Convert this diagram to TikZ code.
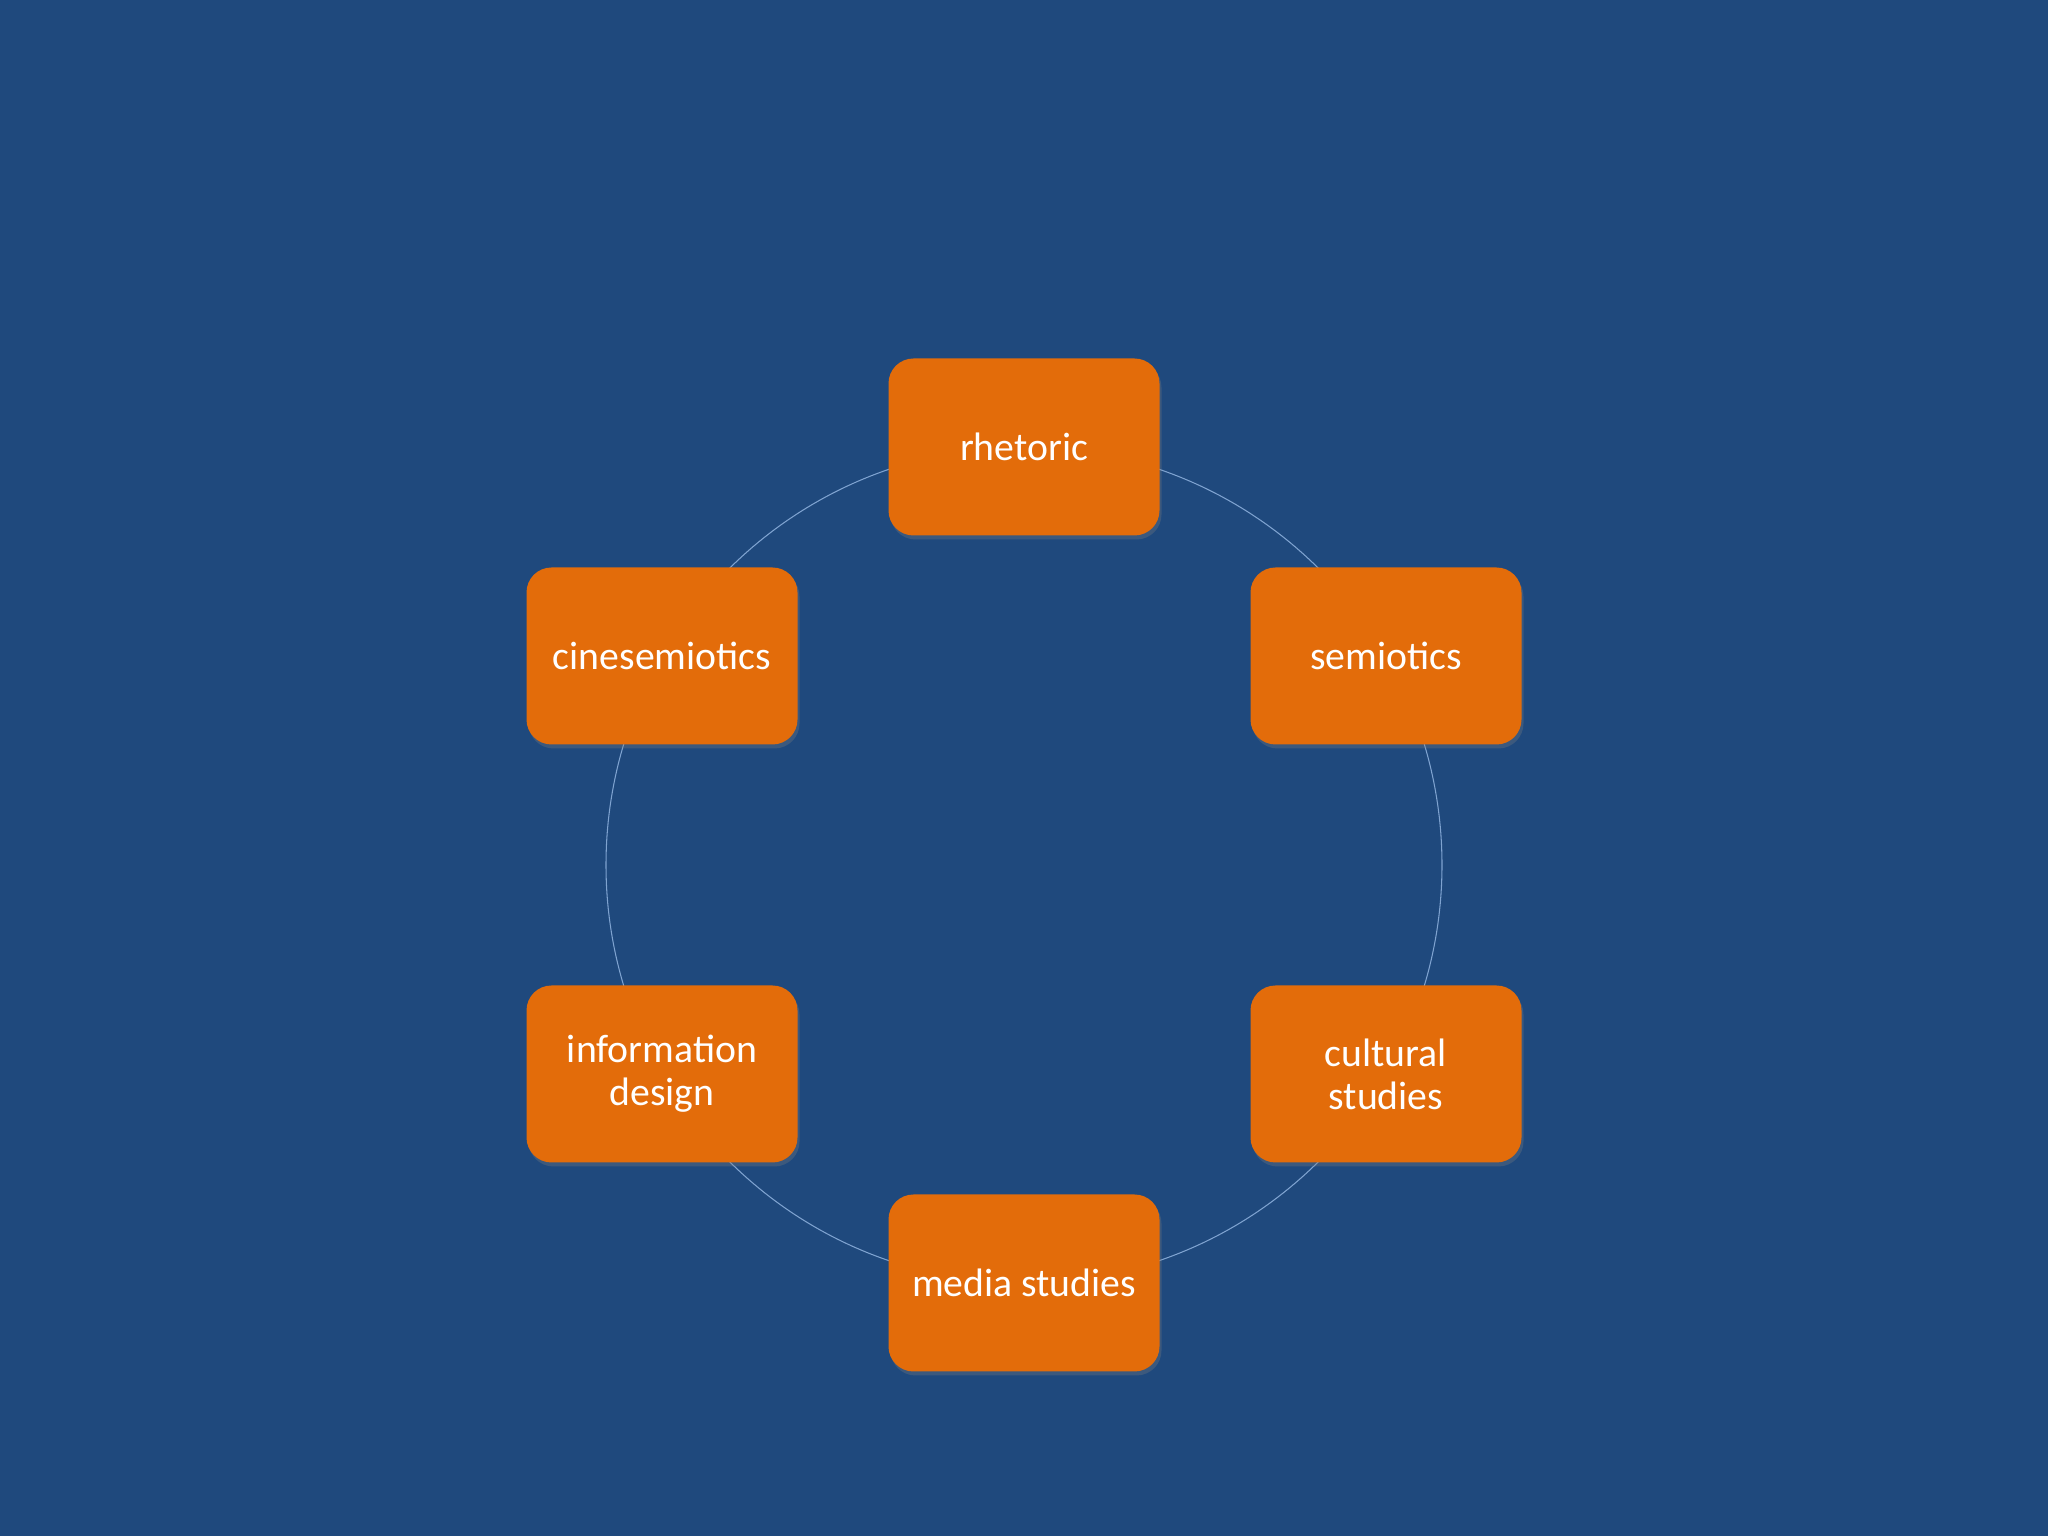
\documentclass[tikz,border=0pt]{standalone}
\usepackage{fontspec}
\setmainfont{Carlito}
\usetikzlibrary{shadows,calc}
\definecolor{bgblue}{HTML}{1F497D}
\definecolor{boxorange}{HTML}{E36C0A}
\definecolor{ringblue}{HTML}{7FA3D0}
\begin{document}
\begin{tikzpicture}[font=\fontsize{11.3}{12.2}\selectfont, line join=round, line cap=round]
			\tikzset{field/.style={draw=none, fill=boxorange, rounded corners=0.25cm, minimum width=2.71cm, minimum height=1.77cm, align=center, text=white, drop shadow={opacity=0.3, shadow xshift=0.02cm, shadow yshift=-0.04cm}}}
			\def\r{4.18} % radius
			\fill[bgblue] (0,0) rectangle (20.48,15.36);
			\coordinate (c) at (10.24,6.71);
			\draw[ringblue, line width=0.3pt] (c) circle (\r);
			\node[field] (rhet) at ($(c)+(90:\r)$) {rhetoric};
			\node[field] (semi) at ($(c)+(30:\r)$) {semiotics};
			\node[field] (cult) at ($(c)+(-30:\r)$) {cultural\\studies};
			\node[field] (media) at ($(c)+(-90:\r)$) {media studies};
			\node[field] (info) at ($(c)+(-150:\r)$) {information\\design};
			\node[field] (cine) at ($(c)+(150:\r)$) {cinesemiotics};
		\end{tikzpicture}
\end{document}
